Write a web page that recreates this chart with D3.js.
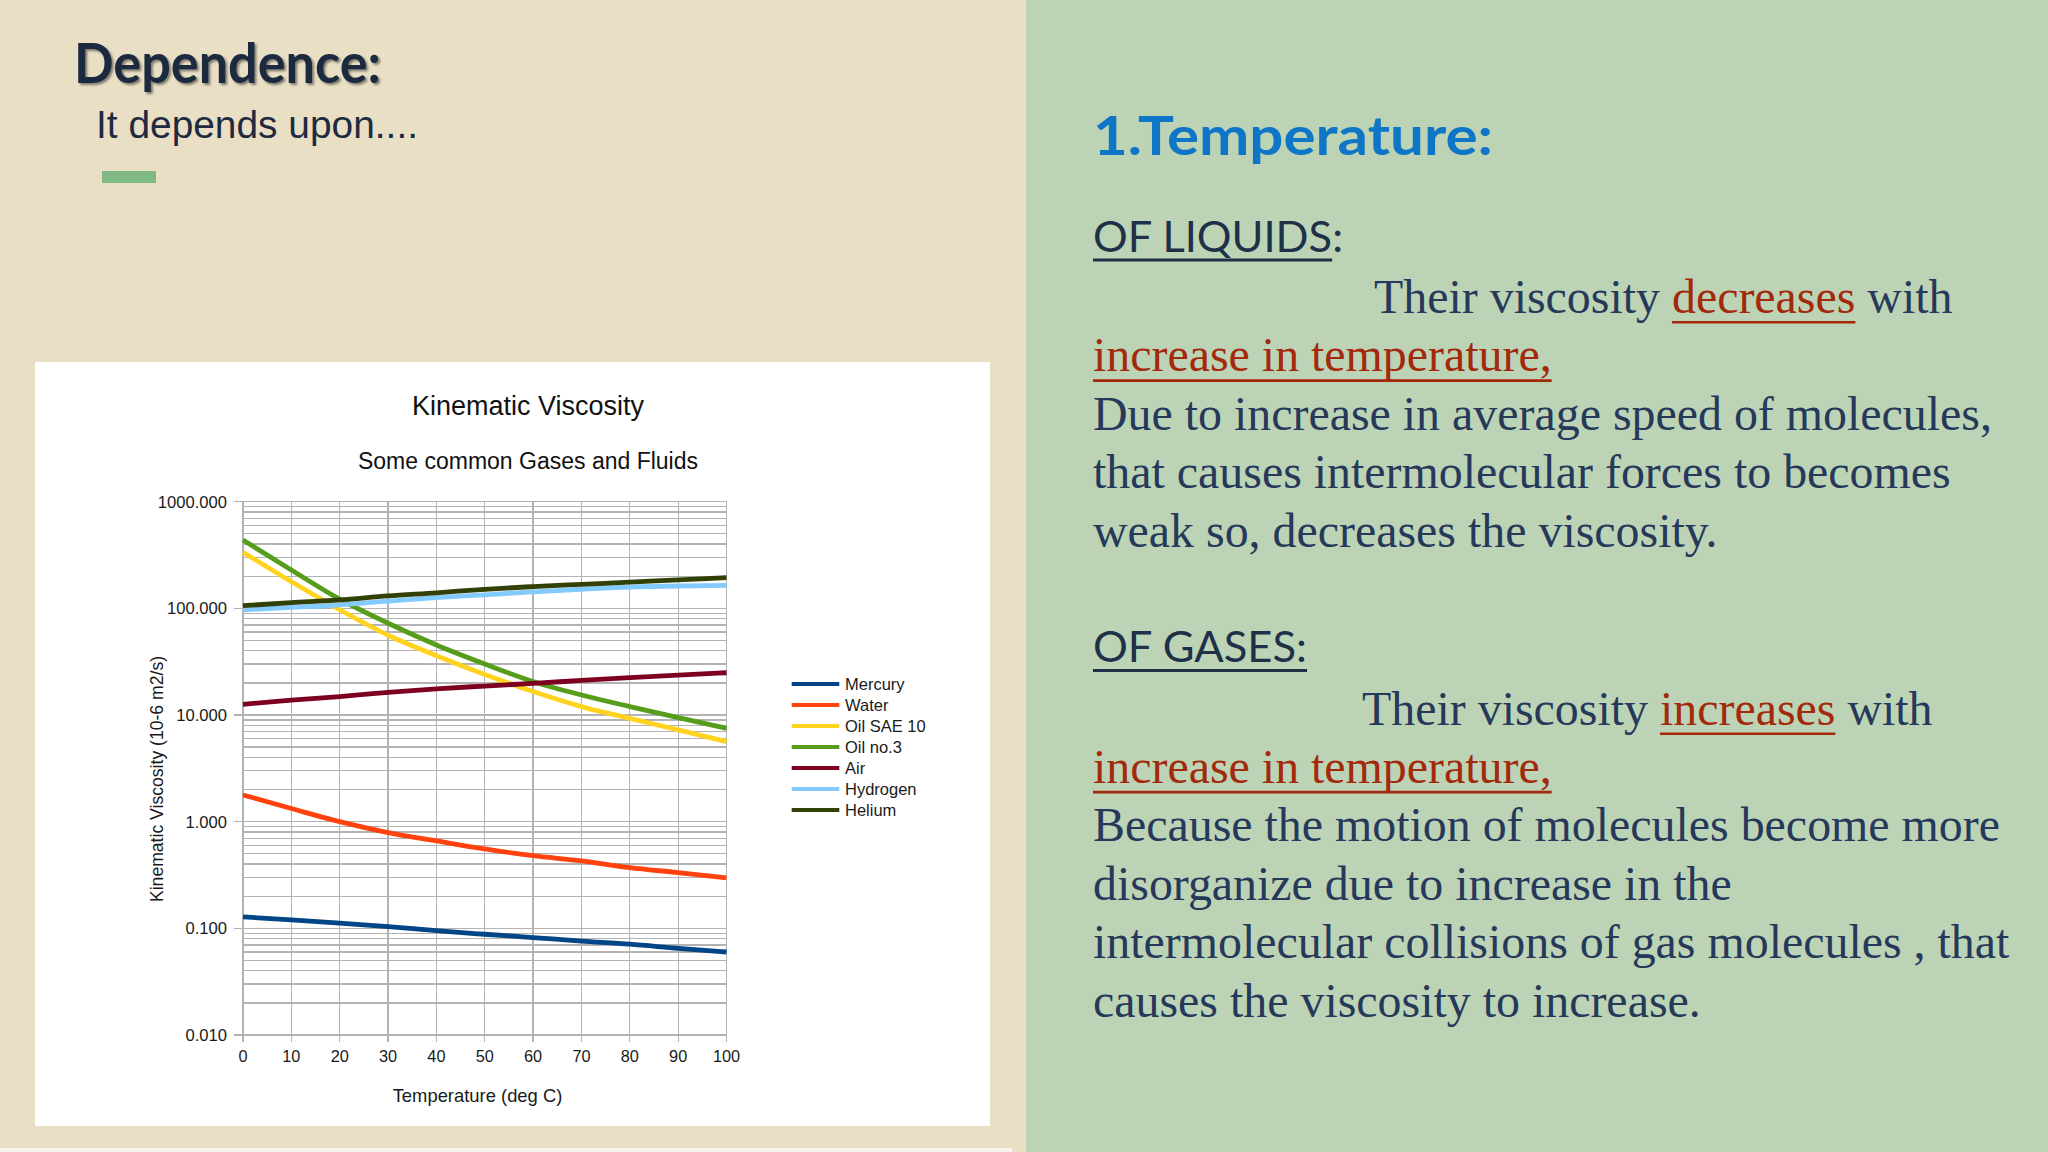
<!DOCTYPE html>
<html>
<head>
<meta charset="utf-8">
<script src="https://cdn.jsdelivr.net/npm/d3@7"></script>
<style>
  body { margin: 0; background: #e9dfc5; }
  svg { display: block; }
  text { white-space: pre; }
</style>
</head>
<body>
<div id="slide"></div>
<script>
// values (kinematic viscosity, 10-6 m2/s)
var temperatures = [0, 10, 20, 30, 40, 50, 60, 70, 80, 90, 100];
var seriesNames  = ["Mercury", "Water", "Oil SAE 10", "Oil no.3", "Air", "Hydrogen", "Helium"];
var seriesColors = ["#004586", "#ff420e", "#ffd320", "#579d1c", "#7e0021", "#83caff", "#314004"];

var mercury  = [0.128, 0.120, 0.112, 0.104, 0.095, 0.088, 0.082, 0.076, 0.071, 0.065, 0.060];
var water    = [1.78, 1.33, 1.00, 0.79, 0.66, 0.555, 0.48, 0.428, 0.37, 0.333, 0.297];
var oilSae10 = [336, 178, 97, 56, 36, 24, 16.6, 12.0, 9.3, 7.25, 5.64];
var oilNo3   = [437, 229, 122, 72.5, 45.4, 30.1, 20.6, 15.4, 12.0, 9.46, 7.5];
var air      = [12.6, 13.8, 14.9, 16.3, 17.6, 18.7, 19.8, 21.1, 22.4, 23.7, 24.9];
var hydrogen = [97, 102, 108, 117, 126, 134, 143, 151, 158, 162, 164];
var helium   = [106, 113, 120, 131, 140, 151, 160, 168, 176, 185, 194];

var allSeries = [mercury, water, oilSae10, oilNo3, air, hydrogen, helium];
var yTicks = [0.01, 0.1, 1, 10, 100, 1000];
var xTicks = temperatures;

var W = 2048, H = 1152;
var navy = "#26395a", red = "#a3290d";

var svg = d3.select("#slide").append("svg")
    .attr("width", W)
    .attr("height", H);

// drop shadow for the slide title
svg.append("defs").append("filter")
    .attr("id", "shadow")
    .attr("x", "-5%").attr("y", "-10%").attr("width", "115%").attr("height", "130%")
    .append("feDropShadow")
    .attr("dx", 2).attr("dy", 2).attr("stdDeviation", 1.2)
    .attr("flood-color", "#000").attr("flood-opacity", 0.45);

// two halves of the slide
svg.append("rect").attr("x", 0).attr("y", 0).attr("width", 1026).attr("height", H).attr("fill", "#e9dfc5");
svg.append("rect").attr("x", 1026).attr("y", 0).attr("width", W - 1026).attr("height", H).attr("fill", "#bcd4b5");
svg.append("rect").attr("x", 0).attr("y", 1148).attr("width", 1012).attr("height", 4).attr("fill", "#f6f3ec");

// left heading
svg.append("text")
    .attr("x", 74).attr("y", 83)
    .attr("font-family", "Lato, 'Open Sans', sans-serif")
    .attr("font-weight", "bold")
    .attr("font-size", 56)
    .attr("textLength", 307).attr("lengthAdjust", "spacingAndGlyphs")
    .attr("fill", "#1f2a40")
    .attr("filter", "url(#shadow)")
    .text("Dependence:");

svg.append("text")
    .attr("x", 96).attr("y", 138)
    .attr("font-family", "'Liberation Sans', Arial, sans-serif")
    .attr("font-size", 38)
    .attr("textLength", 322).attr("lengthAdjust", "spacingAndGlyphs")
    .attr("fill", "#1f2a40")
    .text("It depends upon....");

svg.append("rect").attr("x", 102).attr("y", 171).attr("width", 54).attr("height", 12).attr("fill", "#7fba86");

// ---------- chart ----------
svg.append("rect").attr("x", 35).attr("y", 362).attr("width", 955).attr("height", 764).attr("fill", "#ffffff");

var chartFont = "'Liberation Sans', Arial, sans-serif";
var x = d3.scaleLinear().domain([0, 100]).range([243, 726.5]);
var y = d3.scaleLog().domain([0.01, 1000]).range([1035, 501.7]);

var chart = svg.append("g");

chart.append("text")
    .attr("x", 528).attr("y", 415)
    .attr("text-anchor", "middle")
    .attr("font-family", chartFont).attr("font-size", 27)
    .attr("fill", "#111")
    .text("Kinematic Viscosity");

chart.append("text")
    .attr("x", 528).attr("y", 469)
    .attr("text-anchor", "middle")
    .attr("font-family", chartFont).attr("font-size", 23)
    .attr("fill", "#111")
    .text("Some common Gases and Fluids");

// log grid: every 1..9 inside each decade
var minorVals = [];
yTicks.slice(0, -1).forEach(function (d) {
    for (var k = 2; k <= 9; k++) minorVals.push(d * k);
});

var grid = chart.append("g")
    .attr("stroke", "#b3b3b3")
    .attr("stroke-width", 1.3)
    .attr("shape-rendering", "crispEdges");

grid.selectAll("line.minor")
    .data(minorVals)
    .join("line")
    .attr("class", "minor")
    .attr("x1", x(0)).attr("x2", x(100))
    .attr("y1", function (d) { return y(d); })
    .attr("y2", function (d) { return y(d); });

grid.selectAll("line.major")
    .data(yTicks)
    .join("line")
    .attr("class", "major")
    .attr("x1", x(0) - 9).attr("x2", x(100))
    .attr("y1", function (d) { return y(d); })
    .attr("y2", function (d) { return y(d); });

grid.selectAll("line.vert")
    .data(xTicks)
    .join("line")
    .attr("class", "vert")
    .attr("x1", function (d) { return x(d); })
    .attr("x2", function (d) { return x(d); })
    .attr("y1", y(1000))
    .attr("y2", y(0.01) + 7);

// tick labels
chart.append("g")
    .selectAll("text")
    .data(yTicks)
    .join("text")
    .attr("x", 227)
    .attr("y", function (d) { return y(d); })
    .attr("dy", "0.36em")
    .attr("text-anchor", "end")
    .attr("font-family", chartFont).attr("font-size", 16.6)
    .attr("fill", "#1a1a1a")
    .text(d3.format(".3f"));

chart.append("g")
    .selectAll("text")
    .data(xTicks)
    .join("text")
    .attr("x", function (d) { return x(d); })
    .attr("y", 1062)
    .attr("text-anchor", "middle")
    .attr("font-family", chartFont).attr("font-size", 16.3)
    .attr("fill", "#1a1a1a")
    .text(function (d) { return d; });

// axis titles
chart.append("text")
    .attr("x", 477.5).attr("y", 1101.5)
    .attr("text-anchor", "middle")
    .attr("font-family", chartFont).attr("font-size", 18.4)
    .attr("fill", "#1a1a1a")
    .text("Temperature (deg C)");

chart.append("text")
    .attr("transform", "translate(163,779) rotate(-90)")
    .attr("text-anchor", "middle")
    .attr("font-family", chartFont).attr("font-size", 17.6)
    .attr("fill", "#1a1a1a")
    .text("Kinematic Viscosity (10-6 m2/s)");

// series lines
var line = d3.line()
    .x(function (d) { return x(d[0]); })
    .y(function (d) { return y(d[1]); })
    .curve(d3.curveMonotoneX);

chart.append("g")
    .selectAll("path")
    .data(allSeries)
    .join("path")
    .attr("d", function (vals) {
        return line(temperatures.map(function (t, i) { return [t, vals[i]]; }));
    })
    .attr("fill", "none")
    .attr("stroke", function (d, i) { return seriesColors[i]; })
    .attr("stroke-width", 4.8)
    .attr("stroke-linejoin", "round");

// legend
var legend = chart.append("g")
    .selectAll("g")
    .data(seriesNames)
    .join("g")
    .attr("transform", function (d, i) { return "translate(0," + (684 + i * 21) + ")"; });

legend.append("line")
    .attr("x1", 791.7).attr("x2", 839.3)
    .attr("stroke", function (d, i) { return seriesColors[i]; })
    .attr("stroke-width", 4);

legend.append("text")
    .attr("x", 845)
    .attr("dy", "0.36em")
    .attr("font-family", chartFont).attr("font-size", 16.5)
    .attr("fill", "#1a1a1a")
    .text(function (d) { return d; });

// ---------- right panel text ----------
svg.append("text")
    .attr("x", 1093).attr("y", 155)
    .attr("font-family", "Lato, 'Open Sans', sans-serif")
    .attr("font-weight", "bold")
    .attr("font-size", 54)
    .attr("textLength", 400).attr("lengthAdjust", "spacingAndGlyphs")
    .attr("fill", "#0f75c6")
    .text("1.Temperature:");

function subHeading(label, colon, baseline, width, underlineColon) {
    var t = svg.append("text")
        .attr("x", 1093).attr("y", baseline)
        .attr("font-family", "Lato, 'Open Sans', sans-serif")
        .attr("font-size", 43)
        .attr("textLength", width).attr("lengthAdjust", "spacingAndGlyphs")
        .attr("fill", "#1f3049")
        .text(label + colon);
    var node = t.node();
    var n = underlineColon ? label.length + colon.length : label.length;
    var x2 = node.getEndPositionOfChar(n - 1).x;
    svg.append("line")
        .attr("x1", 1093).attr("x2", x2)
        .attr("y1", baseline + 8.5).attr("y2", baseline + 8.5)
        .attr("stroke", "#1f3049").attr("stroke-width", 3);
}

// parts: [text, isRed]; red parts are underlined
function serifLine(parts, x0, baseline) {
    var t = svg.append("text")
        .attr("x", x0).attr("y", baseline)
        .attr("font-family", "'Liberation Serif', 'Times New Roman', serif")
        .attr("font-size", 47.9)
        .attr("fill", navy);
    parts.forEach(function (p) {
        t.append("tspan").attr("fill", p[1] ? red : navy).text(p[0]);
    });
    var node = t.node(), idx = 0;
    parts.forEach(function (p) {
        if (p[1]) {
            var s = node.getStartPositionOfChar(idx).x;
            var e = node.getEndPositionOfChar(idx + p[0].length - 1).x;
            svg.append("line")
                .attr("x1", s).attr("x2", e)
                .attr("y1", baseline + 9.2).attr("y2", baseline + 9.2)
                .attr("stroke", red).attr("stroke-width", 2.6);
        }
        idx += p[0].length;
    });
}

var step = 58.4;

subHeading("OF LIQUIDS", ":", 251.6, 250, false);
serifLine([["Their viscosity ", false], ["decreases", true], [" with", false]], 1374, 313);
serifLine([["increase in temperature,", true]], 1093, 313 + step);
serifLine([["Due to increase in average speed of molecules,", false]], 1093, 313 + step * 2);
serifLine([["that causes intermolecular forces to becomes", false]], 1093, 313 + step * 3);
serifLine([["weak so, decreases the viscosity.", false]], 1093, 313 + step * 4);

subHeading("OF GASES", ":", 662, 214, true);
serifLine([["Their viscosity ", false], ["increases", true], [" with", false]], 1362, 724.5);
serifLine([["increase in temperature,", true]], 1093, 724.5 + step);
serifLine([["Because the motion of molecules become more", false]], 1093, 724.5 + step * 2);
serifLine([["disorganize due to increase in the", false]], 1093, 724.5 + step * 3);
serifLine([["intermolecular collisions of gas molecules , that", false]], 1093, 724.5 + step * 4);
serifLine([["causes the viscosity to increase.", false]], 1093, 724.5 + step * 5);
</script>
</body>
</html>
